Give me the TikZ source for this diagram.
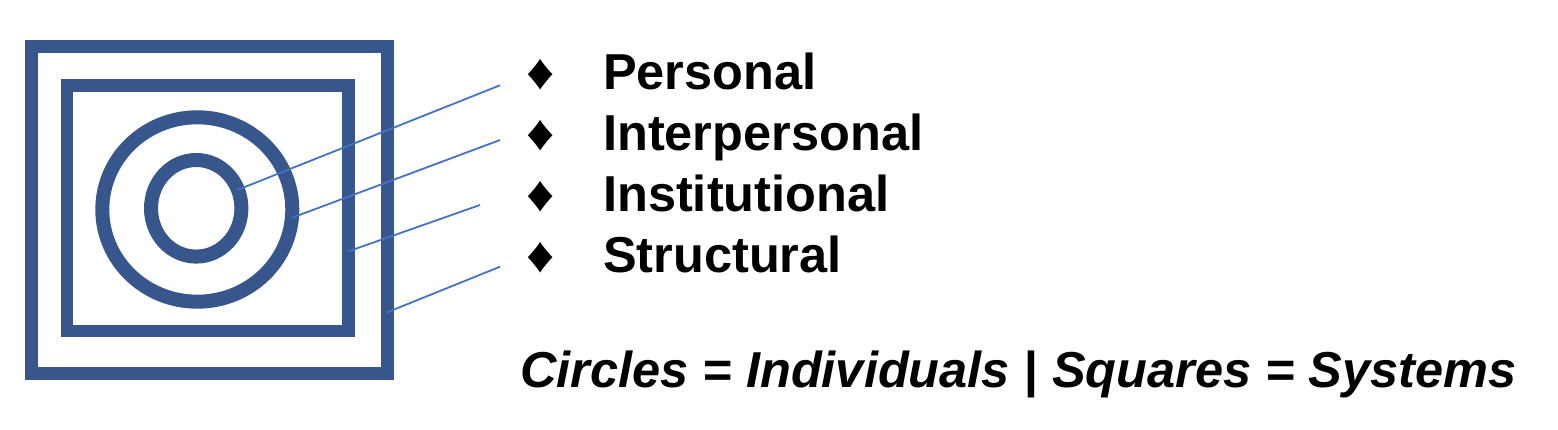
\documentclass[tikz,border=0pt]{standalone}
\usepackage{fontspec}
\setmainfont{Liberation Sans}
\usetikzlibrary{shapes.geometric}
\definecolor{ringblue}{RGB}{54,86,140}
\definecolor{leadblue}{RGB}{68,114,196}
\begin{document}
\begin{tikzpicture}[
	x=1pt,y=-1pt,
	font=\fontsize{50.5}{60}\selectfont\bfseries,
	box/.style={draw=ringblue,rectangle,inner sep=0pt,outer sep=0pt},
	ring/.style={draw=ringblue,ellipse,line width=14pt,inner sep=0pt,outer sep=0pt},
	lead/.style={draw=leadblue,line width=1.8pt},
	item/.style={anchor=base west,inner sep=0pt},
	]
\useasboundingbox (0,0) rectangle (1558,430);
\node [box,line width=13pt,minimum width=355.5pt,minimum height=326.5pt] (structural) at (209.25,209.75) {};
\node [box,line width=12.5pt,minimum width=281.5pt,minimum height=245.5pt] (institutional) at (207.75,208.25) {};
\node [ring,minimum width=190pt,minimum height=184.4pt] (interpersonal) at (197.3,209.5) {};
\node [ring,minimum width=90.4pt,minimum height=96.6pt] (personal) at (196.2,208.3) {};
\coordinate (e1) at (500,85.3);
\coordinate (e2) at (500,140);
\coordinate (e3) at (480,205);
\coordinate (e4) at (500,266.7);
\draw [lead] (personal.24) -- (e1);
\draw [lead] (interpersonal.-5) -- (e2);
\draw [lead] (institutional.-17) -- (e3);
\draw [lead] (structural.-30) -- (e4);
\foreach \txt/\y [count=\i] in {Personal/90,Interpersonal/151,Institutional/212,Structural/273} {
	\node [item,xscale=1.1] (b\i) at (526,\y) {♦};
	\node [item] (l\i) at (603,\y) {\txt};
}
\node [item,font=\fontsize{50.5}{60}\selectfont\bfseries\itshape] (legend) at (520,387) {Circles = Individuals | Squares = Systems};
\end{tikzpicture}
\end{document}
